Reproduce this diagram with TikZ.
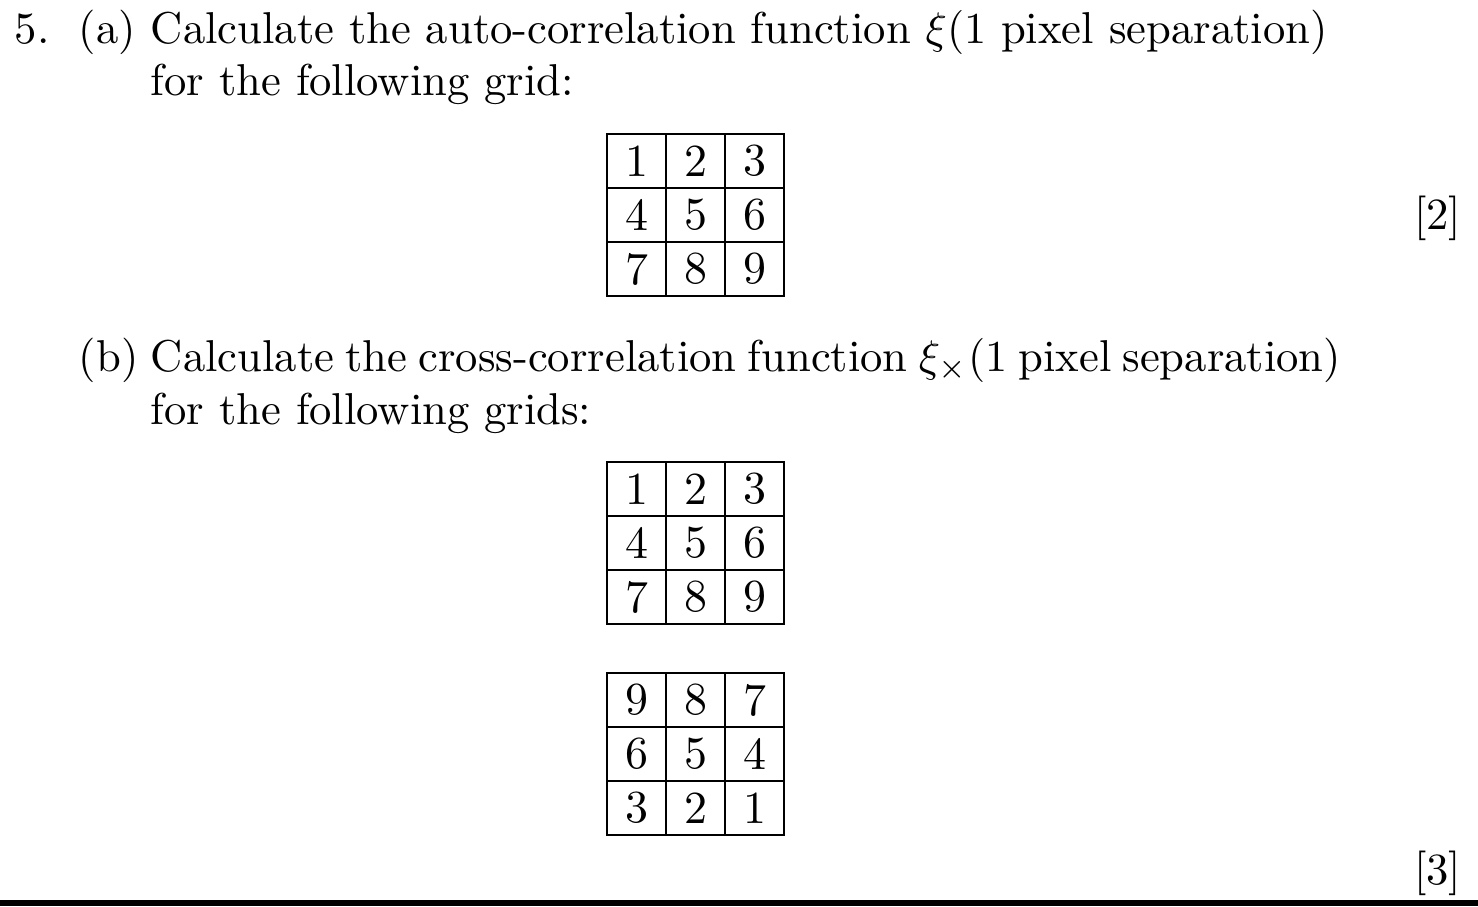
\documentclass[tikz,border=0pt]{standalone}
\begin{document}
\begin{tikzpicture}[x=0.2264pt,y=-0.2264pt,
  txt/.style={anchor=base west,inner sep=0pt,font=\fontsize{10.1}{12}\selectfont},
  num/.style={anchor=center,inner sep=0pt,font=\fontsize{10.4}{12}\selectfont},
  cellgrid/.style={line width=0.3pt}]
\useasboundingbox (0,0) rectangle (1478,906);
\node[txt] (q5) at (14,43) {5.};
\node[txt] (qa) at (78,43) {(a)};
\node[txt] (qa1) at (150,43) {Calculate the auto-correlation function $\xi(1$ pixel separation)};
\node[txt] (qa2) at (150,95) {for the following grid:};
\node[txt] (qb) at (78,371) {(b)};
\node[txt] (qb1) at (150,371) {\spaceskip=0.25em plus 0.1em Calculate the cross-correlation function $\xi_\times(1$ pixel separation)};
\node[txt] (qb2) at (150,424) {for the following grids:};
\node[txt,anchor=base east] (m2) at (1462,229) {[2]};
\node[txt,anchor=base east] (m3) at (1462,884) {[3]};
\foreach \top/\vals in {134/{1,2,3,4,5,6,7,8,9},462/{1,2,3,4,5,6,7,8,9},673/{9,8,7,6,5,4,3,2,1}}{
  \draw[cellgrid] (607,\top) rectangle (784,\top+162);
  \foreach \k in {1,2}{
    \draw[cellgrid] (607+59*\k,\top) -- (607+59*\k,\top+162);
    \draw[cellgrid] (607,\top+54*\k) -- (784,\top+54*\k);
  }
  \foreach \v [count=\i from 0] in \vals {
    \pgfmathtruncatemacro\c{mod(\i,3)}
    \pgfmathtruncatemacro\r{div(\i,3)}
    \node[num] at (636.5+59*\c,\top+27+54*\r) {\v};
  }
}
\draw[line width=1.2pt] (0,903) -- (1478,903);
\end{tikzpicture}
\end{document}
